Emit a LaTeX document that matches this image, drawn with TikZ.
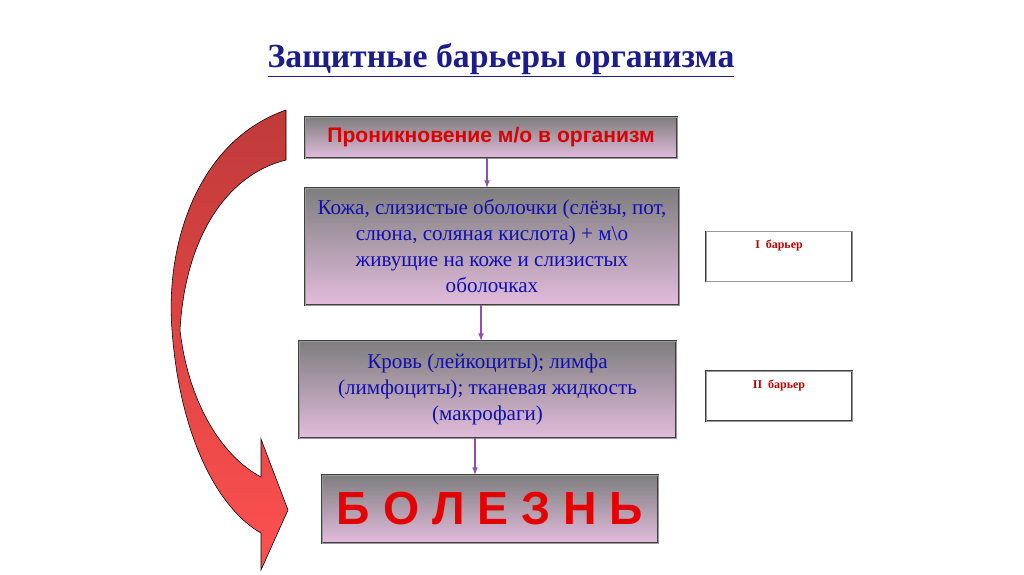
\documentclass[tikz,border=0pt]{standalone}
\usepackage{fontspec}
\setmainfont{Liberation Serif}
\setsansfont{Liberation Sans}
\usetikzlibrary{positioning}
\definecolor{titleblue}{HTML}{1C1C8A}
\definecolor{textblue}{HTML}{1010B0}
\definecolor{boxpink}{HTML}{E2BCDC}
\definecolor{boxgray}{HTML}{7E7E7E}
\definecolor{linkpurple}{HTML}{9050B0}
\definecolor{arrowdark}{HTML}{C03A3A}
\definecolor{arrowlight}{HTML}{FF5050}
\tikzset{
  stage/.style={draw=black!75, double=black!40, double distance=0.6pt, top color=boxgray, bottom color=boxpink, align=center, inner sep=0pt},
  stagetext/.style={stage, font=\fontsize{15}{18.5}\selectfont, text=textblue},
  barrier/.style={draw=black!75, double=black!40, double distance=0.6pt, fill=white, minimum width=146*0.025cm, minimum height=50*0.025cm},
  link/.style={-latex, thick, linkpurple}
}
\begin{document}
\begin{tikzpicture}[x=0.025cm, y=-0.025cm]
		\useasboundingbox (0,0) rectangle (1024,574);
		% Заголовок
		\node (title) at (501,60) {\fontsize{24}{28}\selectfont\bfseries\color{titleblue}\underline{Защитные барьеры организма}};

		% Большая изогнутая стрелка
		\shade[top color=arrowdark, bottom color=arrowlight, draw=black, thin]
			(286,110) .. controls (200,140) and (165,240) .. (172,330)
			.. controls (180,440) and (220,510) .. (261,533)
			-- (261,570) -- (288,510) -- (261,439) -- (261,477)
			.. controls (220,455) and (188,400) .. (180,330)
			.. controls (185,240) and (225,175) .. (286,160) -- cycle;

		% Этапы
		\node[stage, minimum width=372*0.025cm, minimum height=41*0.025cm, font=\sffamily\bfseries\fontsize{15}{17}\selectfont, text=red!85!black] (entry) at (491,137.5)
			{Проникновение м/о в организм};
		\node[stagetext, minimum width=374*0.025cm, minimum height=117*0.025cm] (skin) at (492,246.5)
			{Кожа, слизистые оболочки (слёзы, пот,\\ слюна, соляная кислота) + м\textbackslash о\\ живущие на коже и слизистых\\ оболочках};
		\node[stagetext, minimum width=377*0.025cm, minimum height=97*0.025cm] (blood) at (487.5,389.5)
			{Кровь (лейкоциты); лимфа\\ (лимфоциты); тканевая жидкость\\ (макрофаги)};
		\node[stage, minimum width=336*0.025cm, minimum height=68*0.025cm, font=\sffamily\bfseries\fontsize{33}{36}\selectfont, text=red!90!black] (disease) at (490,509)
			{Б О Л Е З Н Ь};

		% Барьеры
		\node[barrier] (first) at (779,256.5) {};
		\node[font=\bfseries\fontsize{8.5}{10}\selectfont, text=red!75!black, below=3pt of first.north] {I\ \ барьер};
		\node[barrier] (second) at (779,396) {};
		\node[font=\bfseries\fontsize{8.5}{10}\selectfont, text=red!75!black, below=3pt of second.north] {II\ \ барьер};

		% Связи
		\draw[link] (entry.south -| 487,0) -- (skin.north -| 487,0);
		\draw[link] (skin.south -| 481,0) -- (blood.north -| 481,0);
		\draw[link] (blood.south -| 475,0) -- (disease.north -| 475,0);
	\end{tikzpicture}
\end{document}
